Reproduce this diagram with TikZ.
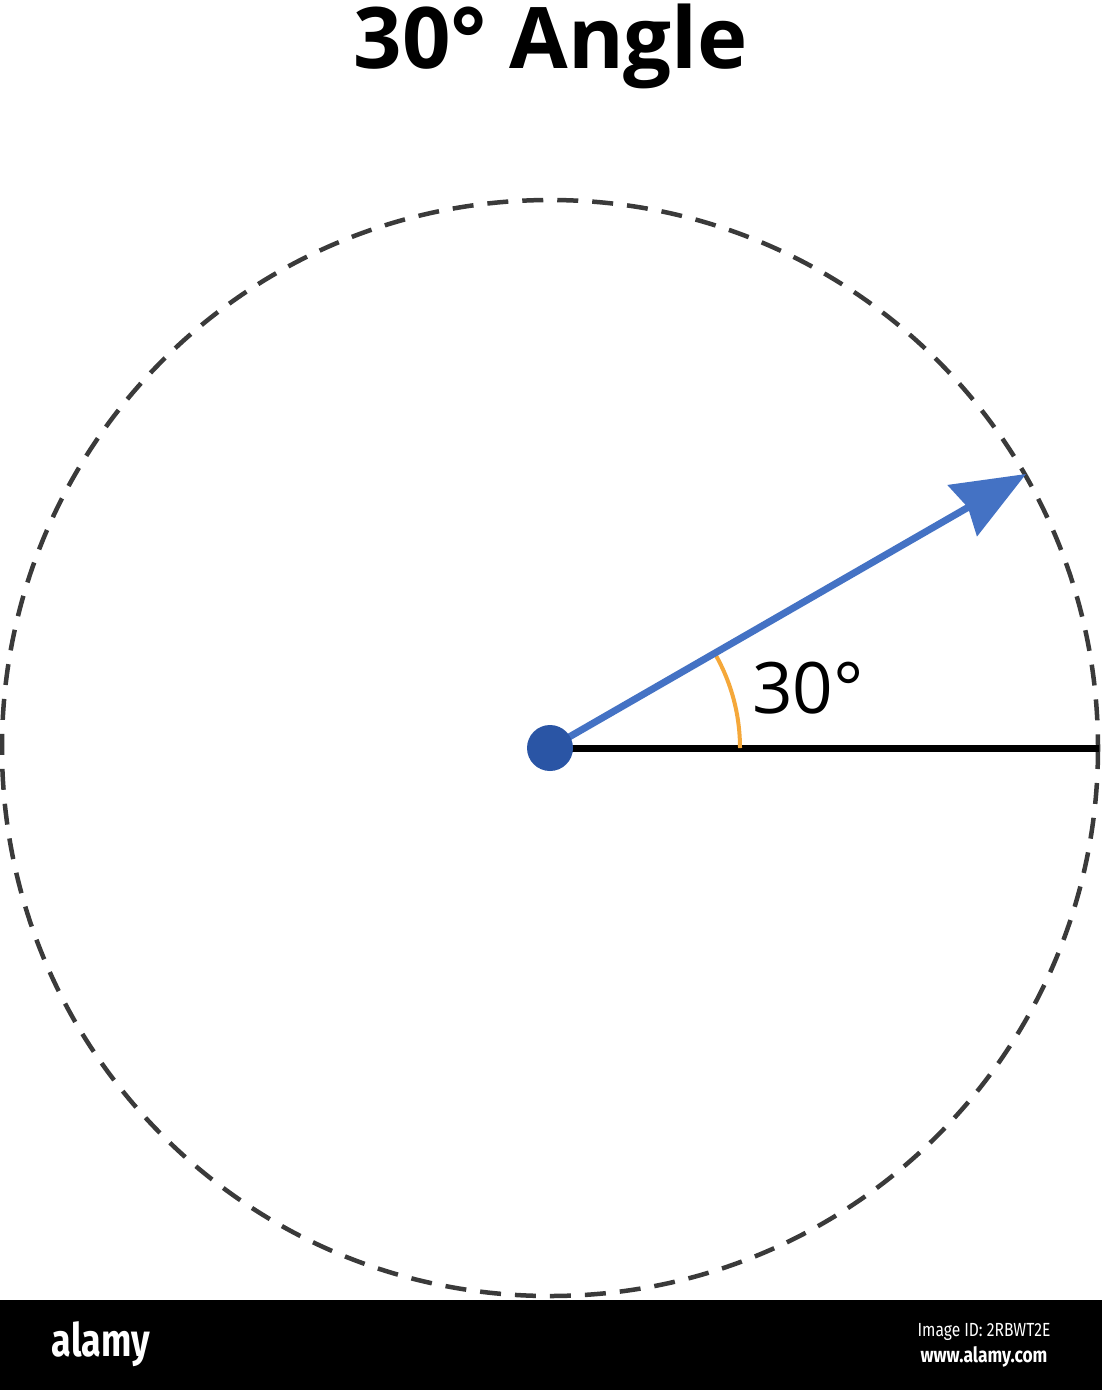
\documentclass[tikz,border=0pt]{standalone}
\usepackage{fontspec}
\setmainfont{Open Sans}
\newfontfamily\logofont{Fira Sans}
\usetikzlibrary{arrows.meta,calc}
\definecolor{rayblue}{HTML}{4472C4}
\definecolor{dotblue}{HTML}{2A55A5}
\definecolor{arcorange}{HTML}{F5A83A}
\definecolor{dashgray}{HTML}{3A3A3A}
\tikzset{
  guide/.style={draw=dashgray, line width=4.5pt, dash pattern=on 21pt off 14pt},
  baseline ray/.style={draw=black, line width=7pt},
  turned ray/.style={draw=rayblue, line width=7pt, -{Stealth[length=73pt,width=58pt,inset=6pt]}},
  anglearc/.style={draw=arcorange, line width=4pt},
}
\begin{document}
\begin{tikzpicture}[x=1pt,y=-1pt]
\useasboundingbox (0,0) rectangle (1102,1390);
\fill[white] (0,0) rectangle (1102,1390);
\coordinate (O) at (550,748);
\coordinate (E) at (1099,748);
\coordinate (T) at (1026,474);
\draw[guide] (O) circle[radius=548];
\draw[baseline ray] (O) -- (E);
\draw[anglearc] ($(O)+(190,0)$) arc[start angle=0, end angle=-30, radius=190];
\draw[turned ray] (O) -- (T);
\fill[dotblue] (O) circle[radius=23];
\node[font=\fontsize{71}{80}\selectfont, inner sep=0, anchor=base] (lab) at (808,713) {30°};
\node[font=\fontsize{85}{90}\selectfont\bfseries, inner sep=0, anchor=base] (title) at (551,68) {30° Angle};
\fill[black] (0,1300) rectangle (1102,1390);
\node[text=white, font=\logofont\bfseries\fontsize{46}{50}\selectfont, xscale=0.78, inner sep=0, anchor=base] (logo) at (101,1356) {alamy};
\node[text=white, font=\logofont\fontsize{19}{22}\selectfont, xscale=0.82, inner sep=0] (imgid) at (984,1332) {Image ID: 2RBWT2E};
\node[text=white, font=\logofont\bfseries\fontsize{21}{24}\selectfont, xscale=0.83, inner sep=0] (url) at (984,1357) {www.alamy.com};
\end{tikzpicture}
\end{document}
